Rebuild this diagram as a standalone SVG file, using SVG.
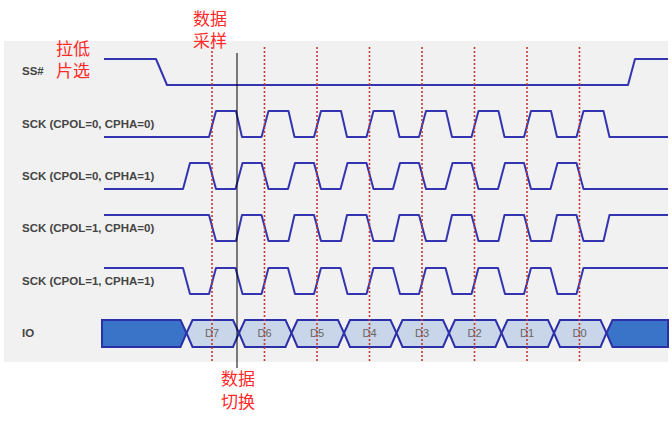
<svg xmlns="http://www.w3.org/2000/svg" width="672" height="425" viewBox="0 0 672 425">
<style>
.sig{fill:none;stroke:#3434b0;stroke-width:2;stroke-linejoin:round}
.lbl{font-family:"Liberation Sans",Arial,sans-serif;font-weight:bold;font-size:11.5px;fill:#444}
.dot{stroke:#c03a3a;stroke-width:1.6;stroke-dasharray:2,2}
.hex{fill:#c9d5e8;stroke:#2b30a8;stroke-width:2}
.blk{fill:#3a74c8;stroke:#2b30a8;stroke-width:2}
.dl{font-family:"Liberation Sans",Arial,sans-serif;font-size:11px;fill:#666;text-anchor:middle}
.cn{font-family:"Liberation Serif","Noto Sans CJK SC",serif;font-size:17px;fill:#ff2a2a}
</style>
<defs>
<path id="p0" d="M104 26 H209 L216 0 L236 0 L242 26 L261.5 26 L268.5 0 L288.5 0 L294.5 26 L314 26 L321 0 L341 0 L347 26 L366.5 26 L373.5 0 L393.5 0 L399.5 26 L419 26 L426 0 L446 0 L452 26 L471.5 26 L478.5 0 L498.5 0 L504.5 26 L524 26 L531 0 L551 0 L557 26 L576.5 26 L583.5 0 L603.5 0 L609.5 26 H668"/>
<path id="p1" d="M104 26 H183 L190 0 L209 0 L216 26 L235.5 26 L242.5 0 L261.5 0 L268.5 26 L288 26 L295 0 L314 0 L321 26 L340.5 26 L347.5 0 L366.5 0 L373.5 26 L393 26 L400 0 L419 0 L426 26 L445.5 26 L452.5 0 L471.5 0 L478.5 26 L498 26 L505 0 L524 0 L531 26 L550.5 26 L557.5 0 L576.5 0 L583.5 26 H668"/>
</defs>
<rect x="4" y="41" width="664" height="321" fill="#f1f1f1"/>
<g id="labels">
<text class="lbl" x="22" y="75">SS#</text>
<text class="lbl" x="22" y="128">SCK (CPOL=0, CPHA=0)</text>
<text class="lbl" x="22" y="180">SCK (CPOL=0, CPHA=1)</text>
<text class="lbl" x="22" y="232">SCK (CPOL=1, CPHA=0)</text>
<text class="lbl" x="22" y="285">SCK (CPOL=1, CPHA=1)</text>
<text class="lbl" x="22" y="337">IO</text>
</g>
<g id="io">
<polygon class="blk" points="102,320 180.5,320 186.5,333 180.5,347 102,347"/>
<polygon class="hex" points="186.5,333 192.5,320 233,320 239,333 233,347 192.5,347"/>
<polygon class="hex" points="239,333 245,320 285.5,320 291.5,333 285.5,347 245,347"/>
<polygon class="hex" points="291.5,333 297.5,320 338,320 344,333 338,347 297.5,347"/>
<polygon class="hex" points="344,333 350,320 390.5,320 396.5,333 390.5,347 350,347"/>
<polygon class="hex" points="396.5,333 402.5,320 443,320 449,333 443,347 402.5,347"/>
<polygon class="hex" points="449,333 455,320 495.5,320 501.5,333 495.5,347 455,347"/>
<polygon class="hex" points="501.5,333 507.5,320 548,320 554,333 548,347 507.5,347"/>
<polygon class="hex" points="554,333 560,320 600.5,320 606.5,333 600.5,347 560,347"/>
<polygon class="blk" points="668,320 612.5,320 606.5,333 612.5,347 668,347"/>
<text class="dl" x="212" y="337">D7</text>
<text class="dl" x="264.5" y="337">D6</text>
<text class="dl" x="317" y="337">D5</text>
<text class="dl" x="369.5" y="337">D4</text>
<text class="dl" x="422" y="337">D3</text>
<text class="dl" x="474.5" y="337">D2</text>
<text class="dl" x="527" y="337">D1</text>
<text class="dl" x="579.5" y="337">D0</text>
</g>
<g id="signals">
<path class="sig" d="M104 59 H156 L167 85 H628 L635 59 H668"/>
<use href="#p0" class="sig" transform="translate(0,111)"/>
<use href="#p1" class="sig" transform="translate(0,163)"/>
<use href="#p0" class="sig" transform="translate(0,241) scale(1,-1)"/>
<use href="#p1" class="sig" transform="translate(0,294) scale(1,-1)"/>
</g>
<g id="markers">
<line class="dot" x1="212" y1="47" x2="212" y2="362"/>
<line class="dot" x1="264.5" y1="47" x2="264.5" y2="362"/>
<line class="dot" x1="317" y1="47" x2="317" y2="362"/>
<line class="dot" x1="369.5" y1="47" x2="369.5" y2="362"/>
<line class="dot" x1="422" y1="47" x2="422" y2="362"/>
<line class="dot" x1="474.5" y1="47" x2="474.5" y2="362"/>
<line class="dot" x1="527" y1="47" x2="527" y2="362"/>
<line class="dot" x1="579.5" y1="47" x2="579.5" y2="362"/>
<line x1="237" y1="53" x2="237" y2="368" stroke="#000" stroke-width="1"/>
</g>
<g id="notes">
<text class="cn" x="56" y="55">拉低</text>
<text class="cn" x="56" y="77">片选</text>
<text class="cn" x="193" y="25">数据</text>
<text class="cn" x="193" y="47">采样</text>
<text class="cn" x="221" y="385">数据</text>
<text class="cn" x="221" y="408">切换</text>
</g>
</svg>
